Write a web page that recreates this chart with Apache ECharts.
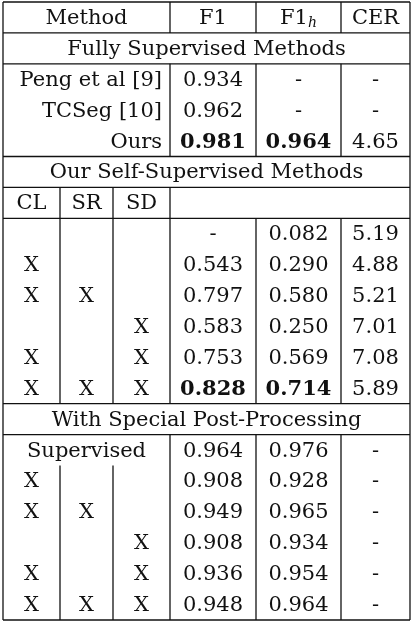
<!DOCTYPE html>
<html>
<head>
<meta charset="UTF-8">
<script src="https://cdn.jsdelivr.net/npm/echarts@6/dist/echarts.min.js"></script>
<style>
  body { margin: 0; background: #fff; }
  #table { width: 414px; height: 622px; }
</style>
</head>
<body>
<div id="table"></div>
<script>
  // table data
  var supNames = ['Peng et al [9]', 'TCSeg [10]', 'Ours'];
  var supF1 = ['0.934', '0.962', '0.981'];
  var supF1h = ['-', '-', '0.964'];
  var supCER = ['-', '-', '4.65'];
  var supBold = [false, false, true];

  var selfFlags = [[0,0,0],[1,0,0],[1,1,0],[0,0,1],[1,0,1],[1,1,1]];
  var selfF1 = ['-', '0.543', '0.797', '0.583', '0.753', '0.828'];
  var selfF1h = ['0.082', '0.290', '0.580', '0.250', '0.569', '0.714'];
  var selfCER = ['5.19', '4.88', '5.21', '7.01', '7.08', '5.89'];
  var selfBold = [false, false, false, false, false, true];

  var postFlags = [[1,0,0],[1,1,0],[0,0,1],[1,0,1],[1,1,1]];
  var postF1 = ['0.964', '0.908', '0.949', '0.908', '0.936', '0.948'];
  var postF1h = ['0.976', '0.928', '0.965', '0.934', '0.954', '0.964'];

  var sections = ['Fully Supervised Methods', 'Our Self-Supervised Methods', 'With Special Post-Processing'];
  var flagNames = ['CL', 'SR', 'SD'];

  // layout
  var xs = [3, 60, 113, 170, 256, 341, 410];
  var top0 = 2, rowH = 30.9;
  var font = '"DejaVu Serif", "Liberation Serif", serif';
  var size = 21;
  var els = [];

  function mid(a, b) { return (xs[a] + xs[b]) / 2; }
  function rowY(r) { return top0 + r * rowH; }
  function text(str, x, r, align, bold) {
    els.push({ type: 'text', x: x, y: rowY(r) + rowH / 2 + 1,
      style: { text: str, font: (bold ? 'bold ' : '') + size + 'px ' + font, fill: '#111',
        align: align || 'center', verticalAlign: 'middle' } });
  }
  function hline(r) {
    els.push({ type: 'line', shape: { x1: xs[0], y1: rowY(r), x2: xs[6], y2: rowY(r) },
      style: { stroke: '#111', lineWidth: 1.3 } });
  }
  function vline(c, r0, r1) {
    els.push({ type: 'line', shape: { x1: xs[c], y1: rowY(r0), x2: xs[c], y2: rowY(r1 + 1) },
      style: { stroke: '#111', lineWidth: 1.3 } });
  }

  // header
  text('Method', mid(0, 3), 0);
  text('F1', mid(3, 4), 0);
  els.push({ type: 'text', x: mid(4, 5), y: rowY(0) + rowH / 2 + 1,
    style: { text: '{a|F1}{s|h}', align: 'center', verticalAlign: 'middle',
      rich: { a: { font: size + 'px ' + font, fill: '#111' },
              s: { font: 'italic 14px ' + font, fill: '#111', padding: [10, 0, 0, 0] } } } });
  text('CER', mid(5, 6), 0);

  // fully supervised
  text(sections[0], mid(0, 6), 1);
  supNames.forEach(function (n, i) {
    var r = 2 + i;
    text(n, xs[3] - 8, r, 'right');
    text(supF1[i], mid(3, 4), r, 'center', supBold[i]);
    text(supF1h[i], mid(4, 5), r, 'center', supBold[i]);
    text(supCER[i], mid(5, 6), r);
  });

  // self supervised
  text(sections[1], mid(0, 6), 5);
  flagNames.forEach(function (f, j) { text(f, mid(j, j + 1), 6); });
  selfFlags.forEach(function (fl, i) {
    var r = 7 + i;
    fl.forEach(function (v, j) { if (v) text('X', mid(j, j + 1), r); });
    text(selfF1[i], mid(3, 4), r, 'center', selfBold[i]);
    text(selfF1h[i], mid(4, 5), r, 'center', selfBold[i]);
    text(selfCER[i], mid(5, 6), r);
  });

  // post-processing
  text(sections[2], mid(0, 6), 13);
  text('Supervised', mid(0, 3), 14);
  text(postF1[0], mid(3, 4), 14);
  text(postF1h[0], mid(4, 5), 14);
  text('-', mid(5, 6), 14);
  postFlags.forEach(function (fl, i) {
    var r = 15 + i;
    fl.forEach(function (v, j) { if (v) text('X', mid(j, j + 1), r); });
    text(postF1[i + 1], mid(3, 4), r);
    text(postF1h[i + 1], mid(4, 5), r);
    text('-', mid(5, 6), r);
  });

  // rules
  [0, 1, 2, 5, 6, 7, 13, 14, 20].forEach(hline);
  vline(0, 0, 19); vline(6, 0, 19);
  vline(3, 0, 0); vline(3, 2, 4); vline(3, 6, 12); vline(3, 14, 19);
  [4, 5].forEach(function (c) { vline(c, 0, 0); vline(c, 2, 4); vline(c, 7, 12); vline(c, 14, 19); });
  [1, 2].forEach(function (c) { vline(c, 6, 12); vline(c, 15, 19); });

  var chart = echarts.init(document.getElementById('table'));
  chart.setOption({ backgroundColor: '#fff', animation: false, graphic: { elements: els } });
</script>
</body>
</html>
